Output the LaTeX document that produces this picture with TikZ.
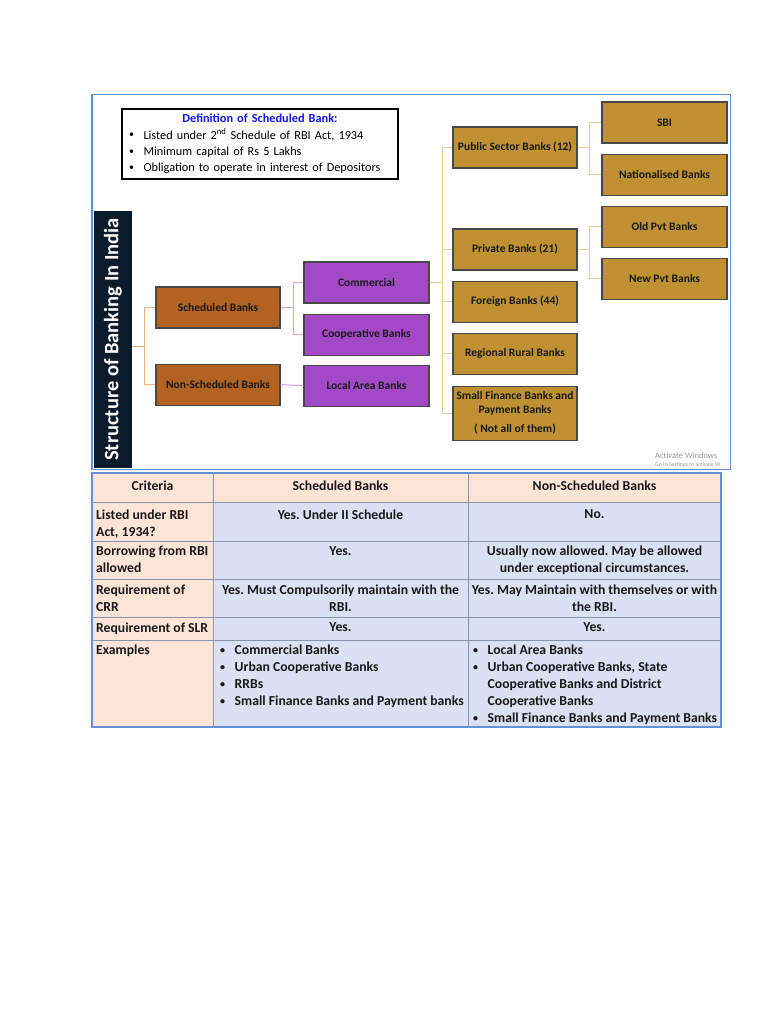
\documentclass[tikz,border=0pt]{standalone}
\usepackage{fontspec}
\setmainfont{Carlito}
\frenchspacing
\usetikzlibrary{positioning,calc}
\definecolor{framecolor}{RGB}{98,146,212}
\definecolor{navycolor}{RGB}{12,27,42}
\definecolor{brownbox}{RGB}{178,99,34}
\definecolor{purplebox}{RGB}{163,73,200}
\definecolor{goldbox}{RGB}{191,145,50}
\definecolor{boxedge}{RGB}{72,72,72}
\definecolor{orangelink}{RGB}{238,178,128}
\definecolor{lilaclink}{RGB}{214,160,236}
\definecolor{goldlink}{RGB}{233,206,150}
\definecolor{defblue}{RGB}{20,20,235}
\definecolor{peachcell}{RGB}{252,228,214}
\definecolor{bluecell}{RGB}{217,225,242}
\definecolor{gridcolor}{RGB}{135,148,170}
\definecolor{inkcolor}{RGB}{25,25,25}
\newcommand{\bul}{\makebox[14.5pt][l]{\raisebox{1.3pt}{\fontsize{10}{10}\selectfont\textbullet}}}
\newcommand{\ind}{\hspace*{14.5pt}}

\begin{document}
\begin{tikzpicture}[
				x=1pt, y=-1pt,
				bankbox/.style={
					draw=boxedge,
					line width=1.1pt,
					minimum height=41pt,
					inner sep=0pt,
					align=center,
					text=inkcolor,
					font=\fontsize{11.5}{14}\selectfont\bfseries
				},
				schedbox/.style={bankbox, fill=brownbox, minimum width=124pt},
				typebox/.style={bankbox, fill=purplebox, minimum width=125pt},
				groupbox/.style={bankbox, fill=goldbox, minimum width=124pt},
				titlebar/.style={
					fill=navycolor,
					text=white,
					minimum width=257pt,
					minimum height=38pt,
					inner sep=0pt,
					font=\fontsize{20.5}{24}\selectfont\bfseries
				},
				defbox/.style={
					draw=black,
					line width=1.8pt,
					fill=white,
					minimum height=70pt,
					text width=262pt,
					inner xsep=7pt,
					inner ysep=0pt,
					align=left,
					font=\fontsize{12.3}{16.3}\selectfont
				},
				orangeline/.style={draw=orangelink, line width=1pt},
				lilacline/.style={draw=lilaclink, line width=1pt},
				goldline/.style={draw=goldlink, line width=1pt},
				frameline/.style={draw=framecolor, line width=1.2pt},
				gridline/.style={draw=gridcolor, line width=0.9pt},
				headtext/.style={
					anchor=north,
					inner sep=0pt,
					align=center,
					text=inkcolor,
					font=\fontsize{13.7}{17}\selectfont\bfseries
				},
				celltext/.style={headtext},
				crittext/.style={headtext, anchor=north west, align=left},
				listtext/.style={crittext},
				marktext/.style={anchor=west, inner sep=0pt, text=black!40}
				]
				
				\path[fill=white, use as bounding box] (0,0) rectangle (768,1024);
				
				% top part
				\draw[frameline] (92,94.5) rectangle (730.5,469.5);
				
				\node[defbox] (defn) at (260,144) {
					{\centering\textbf{\color{defblue}Definition of Scheduled Bank:}\par}
					\bul Listed under 2\textsuperscript{nd} Schedule of RBI Act, 1934\\
					\bul Minimum capital of Rs 5 Lakhs\\
					\bul Obligation to operate in interest of Depositors
				};
				
				\node[titlebar, rotate=90] (title) at (113,339.5) {Structure of Banking In India};
				
				\node[schedbox] (sched) at (218,307.5) {Scheduled Banks};
				\node[schedbox, below=35pt of sched] (nonsch) {Non-Scheduled Banks};
				
				\node[typebox] (comm) at (366.5,282.5) {Commercial};
				\node[typebox, below=10pt of comm] (coop) {Cooperative Banks};
				\node[typebox, below=9pt of coop] (local) {Local Area Banks};
				
				\node[groupbox] (psb) at (515,147.5) {Public Sector Banks (12)};
				\node[groupbox] (pvt) at (515,249.5) {Private Banks (21)};
				\node[groupbox, below=10pt of pvt] (fgn) {Foreign Banks (44)};
				\node[groupbox, below=10pt of fgn] (rrb) {Regional Rural Banks};
				\node[groupbox, below=11pt of rrb, minimum height=54pt] (sfb) {
					Small Finance Banks and\\
					Payment Banks\\[5pt]
					( Not all of them)
				};
				
				\node[groupbox, minimum width=125pt] (sbi) at (664.5,122.5) {SBI};
				\node[groupbox, minimum width=125pt, below=10pt of sbi] (nat) {Nationalised Banks};
				\node[groupbox, minimum width=125pt, below=10pt of nat] (oldpvt) {Old Pvt Banks};
				\node[groupbox, minimum width=125pt, below=10pt of oldpvt] (newpvt) {New Pvt Banks};
				
				\coordinate (split) at ($(sched.west)!.5!(nonsch.west)$);
				
				\draw[orangeline] (title.south |- split) -- ++(12,0) |- (sched.west);
				\draw[orangeline] (title.south |- split) -- ++(12,0) |- (nonsch.west);
				\draw[lilacline] (sched.east) -- ++(12.5,0) |- (comm.west);
				\draw[lilacline] (sched.east) -- ++(12.5,0) |- (coop.west);
				\draw[lilacline] (nonsch.east) -- (local.west);
				\draw[goldline] (comm.east) -- ++(12.5,0) |- (psb.west);
				\draw[goldline] (comm.east) -- ++(12.5,0) |- (pvt.west);
				\draw[goldline] (comm.east) -- ++(12.5,0) |- (fgn.west);
				\draw[goldline] (comm.east) -- ++(12.5,0) |- (rrb.west);
				\draw[goldline] (comm.east) -- ++(12.5,0) |- (sfb.west);
				\draw[goldline] (psb.east) -- ++(12,0) |- (sbi.west);
				\draw[goldline] (psb.east) -- ++(12,0) |- (nat.west);
				\draw[goldline] (pvt.east) -- ++(12,0) |- (oldpvt.west);
				\draw[goldline] (pvt.east) -- ++(12,0) |- (newpvt.west);
				
				\node[marktext, font=\fontsize{8.5}{10}\selectfont] (actwin) at (655,456) {Activate Windows};
				\node[marktext, font=\fontsize{5.8}{7}\selectfont] (actset) at (655,465) {Go to Settings to activate W};
				
				% comparison table
				\fill[peachcell] (92,473) rectangle (721,502);
				\fill[peachcell] (92,502) rectangle (213,727);
				\fill[bluecell] (213,502) rectangle (721,727);
				\draw[gridline] (92,502) -- (721,502) (92,541) -- (721,541)
					(92,579) -- (721,579) (92,617) -- (721,617) (92,640) -- (721,640)
					(213,473) -- (213,727) (468,473) -- (468,727);
				\draw[frameline] (92,473) rectangle (721,727);
				
				\node[headtext] (hcrit) at (152.5,481) {Criteria};
				\node[headtext] (hsch) at (340.5,481) {Scheduled Banks};
				\node[headtext] (hnon) at (594.5,481) {Non-Scheduled Banks};
				
				\node[crittext] (crit1) at (96,509.5) {Listed under RBI\\Act, 1934?};
				\node[celltext] (sch1) at (340.5,509.5) {Yes. Under II Schedule};
				\node[celltext] (non1) at (594.5,509.5) {No.};
				
				\node[crittext] (crit2) at (96,546) {Borrowing from RBI\\allowed};
				\node[celltext] (sch2) at (340.5,546) {Yes.};
				\node[celltext] (non2) at (594.5,546) {Usually now allowed. May be allowed\\under exceptional circumstances.};
				
				\node[crittext] (crit3) at (96,584.5) {Requirement of\\CRR};
				\node[celltext] (sch3) at (340.5,584.5) {Yes. Must Compulsorily maintain with the\\RBI.};
				\node[celltext] (non3) at (594.5,584.5) {Yes. May Maintain with themselves or with\\the RBI.};
				
				\node[crittext] (crit4) at (96,622.5) {Requirement of SLR};
				\node[celltext] (sch4) at (340.5,622.5) {Yes.};
				\node[celltext] (non4) at (594.5,622.5) {Yes.};
				
				\node[crittext] (crit5) at (96,644.5) {Examples};
				\node[listtext] (sch5) at (220,644.5) {
					\bul Commercial Banks\\
					\bul Urban Cooperative Banks\\
					\bul RRBs\\
					\bul Small Finance Banks and Payment banks
				};
				\node[listtext] (non5) at (473,644.5) {
					\bul Local Area Banks\\
					\bul Urban Cooperative Banks, State\\
					\ind Cooperative Banks and District\\
					\ind Cooperative Banks\\
					\bul Small Finance Banks and Payment Banks
				};
				
			\end{tikzpicture}
\end{document}
